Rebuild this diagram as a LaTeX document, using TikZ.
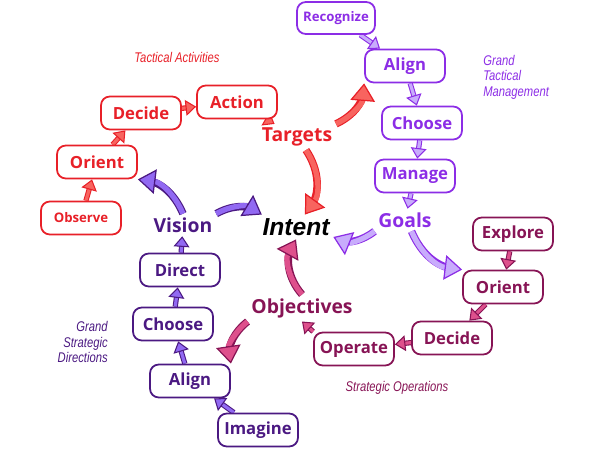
\documentclass[tikz,border=0pt]{standalone}
\usepackage{fontspec}
\setmainfont{Open Sans}
\newfontfamily\notefont[FakeStretch=0.8]{Liberation Sans}
\newfontfamily\intentfont{Liberation Sans}
\usetikzlibrary{arrows.meta}

\definecolor{tacline}{RGB}{232,32,40}
\definecolor{tacfill}{RGB}{248,100,95}
\definecolor{gtmline}{RGB}{140,45,230}
\definecolor{gtmfill}{RGB}{200,172,252}
\definecolor{opsline}{RGB}{135,20,85}
\definecolor{opsfill}{RGB}{222,80,140}
\definecolor{gsdline}{RGB}{75,25,130}
\definecolor{gsdfill}{RGB}{145,105,242}

\pgfdeclarelayer{edgelayer}
\pgfdeclarelayer{nodelayer}
\pgfsetlayers{edgelayer,nodelayer,main}
\tikzstyle{none}=[inner sep=0pt]
\tikzstyle{box}=[rectangle,rounded corners=5pt,draw=#1line,text=#1line,fill=white,line width=1pt,minimum width=1.6cm,minimum height=0.66cm,font=\bfseries\fontsize{9.5}{11}\selectfont]
\tikzstyle{smallbox}=[box=#1,font=\bfseries\fontsize{7.5}{9}\selectfont]
\tikzstyle{word}=[inner sep=2pt,text=#1line,font=\bfseries\fontsize{11}{13}\selectfont]
\tikzstyle{note}=[inner sep=0pt,text=#1line,font=\notefont\itshape\fontsize{8}{8.8}\selectfont]
\tikzstyle{link}=[draw=#1fill,line width=1.8pt,-{Triangle[color=#1line,fill=#1fill,line width=0.6pt,length=6pt,width=9pt]},preaction={draw=#1line,line width=3pt,-,shorten >=3pt}]
\tikzstyle{sweep}=[draw=#1fill,line width=3pt,-{Triangle[color=#1line,fill=#1fill,line width=0.7pt,length=10pt,width=14pt]},preaction={draw=#1line,line width=4.3pt,-,shorten >=6pt}]

\begin{document}
\begin{tikzpicture}[x=0.02cm,y=0.02cm]
	\useasboundingbox (0,0) rectangle (600,-449);
	\begin{pgfonlayer}{nodelayer}
		\node [smallbox=tac] (0) at (81,-218) {Observe};
		\node [box=tac] (1) at (97,-162) {Orient};
		\node [box=tac] (2) at (141,-113) {Decide};
		\node [box=tac] (3) at (237,-102) {Action};
		\node [word=tac] (4) at (297,-137) {Targets};
		\node [smallbox=gtm,minimum width=1.56cm,minimum height=0.64cm] (5) at (336,-18) {Recognize};
		\node [box=gtm] (6) at (405,-66) {Align};
		\node [box=gtm] (7) at (422,-123) {Choose};
		\node [box=gtm] (8) at (415,-176) {Manage};
		\node [word=gtm] (9) at (405,-220) {Goals};
		\node [box=ops] (10) at (513,-234) {Explore};
		\node [box=ops] (11) at (503,-287) {Orient};
		\node [box=ops] (12) at (452,-338) {Decide};
		\node [box=ops] (13) at (354,-349) {Operate};
		\node [word=ops] (14) at (302,-308) {Objectives};
		\node [box=gsd] (15) at (258,-430) {Imagine};
		\node [box=gsd] (16) at (190,-381) {Align};
		\node [box=gsd] (17) at (173,-324) {Choose};
		\node [box=gsd] (18) at (180,-270) {Direct};
		\node [word=gsd] (19) at (183,-225) {Vision};
		\node [inner sep=2pt,font=\intentfont\bfseries\itshape\fontsize{14}{16}\selectfont] (20) at (296,-227) {Intent};
		\node [note=tac] (21) at (177,-57) {Tactical Activities};
		\node [note=gtm,align=left,anchor=west] (22) at (483,-77) {Grand\\Tactical\\Management};
		\node [note=gsd,align=right,anchor=east] (23) at (108,-342) {Grand\\Strategic\\Directions};
		\node [note=ops] (24) at (397,-388) {Strategic Operations};
	\end{pgfonlayer}
	\begin{pgfonlayer}{edgelayer}
		\draw [link=tac] (0) to (1);
		\draw [link=tac] (1) to (2);
		\draw [link=tac] (2) to (3);
		\draw [link=tac] (3) to (4);
		\draw [sweep=tac, bend left=35] (4) to (20);
		\draw [sweep=tac, bend right=30] (4.north east) to (6.south west);
		\draw [link=gtm] (5) to (6);
		\draw [link=gtm] (6) to (7);
		\draw [link=gtm] (7) to (8);
		\draw [link=gtm] (8) to (9);
		\draw [sweep=gtm, bend left=30] (9.south west) to (20.-15);
		\draw [sweep=gtm, bend right=30] (9.-60) to (11.north west);
		\draw [link=ops] (10) to (11);
		\draw [link=ops] (11) to (12);
		\draw [link=ops] (12) to (13);
		\draw [link=ops] (13.north west) to (14.south);
		\draw [sweep=ops, bend left=35] (14.north) to (20.south);
		\draw [sweep=ops, bend right=30] (14.south west) to (16.north east);
		\draw [link=gsd] (15) to (16);
		\draw [link=gsd] (16) to (17);
		\draw [link=gsd] (17) to (18);
		\draw [link=gsd] (18) to (19);
		\draw [sweep=gsd, bend right=30] (19.north) to (1.south east);
		\draw [sweep=gsd, bend left=30] (19.north east) to (20.160);
	\end{pgfonlayer}
\end{tikzpicture}
\end{document}
